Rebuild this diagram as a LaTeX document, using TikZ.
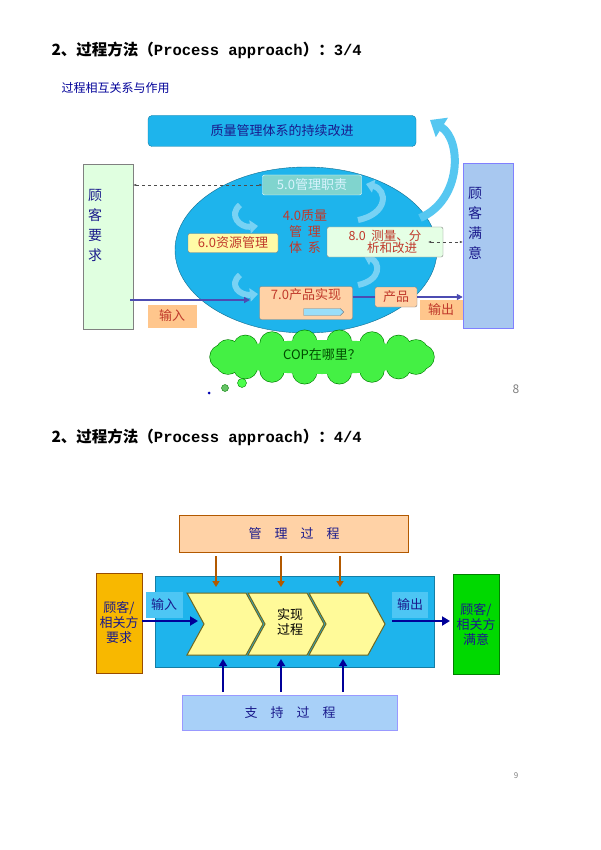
\documentclass[tikz,border=0pt]{standalone}
\usepackage{fontspec}
\setmainfont{Noto Sans CJK SC}
\newfontfamily\lmono{Liberation Mono}
\usetikzlibrary{arrows.meta,shapes.symbols,shapes.geometric}
\definecolor{cy}{HTML}{1EB4EC}
\definecolor{redt}{HTML}{C0392B}
\definecolor{navy}{HTML}{1A1A8C}
\definecolor{lblue}{HTML}{A8C8F0}
\definecolor{sblue}{HTML}{A8D0F8}
\definecolor{gold}{HTML}{F8B800}
\definecolor{cgreen}{HTML}{44F044}
\begin{document}
\begin{tikzpicture}[x=1pt,y=-1pt,
  txt/.style={font=\fontsize{13}{15}\selectfont},
  vtxt/.style={font=\fontsize{14}{20}\selectfont},
  curv/.style={line width=6pt,-{Triangle[length=8pt,width=13pt]},color=cy!60!white},
  fl/.style={-{Triangle[length=8pt,width=9pt]},line width=2.8pt}]
\useasboundingbox[fill=white] (0,0) rectangle (600,850);
% titles
\node[anchor=west,font=\bfseries\fontsize{15.5}{17}\selectfont] (t1) at (48,50) {2、过程方法（{\lmono\bfseries Process approach}）：{\lmono\bfseries 3/4}};
\node[anchor=west,font=\fontsize{12}{13}\selectfont,text=blue!60!black] (st) at (58,88) {过程相互关系与作用};
\node[anchor=west,font=\bfseries\fontsize{15.5}{17}\selectfont] (t2) at (48,437) {2、过程方法（{\lmono\bfseries Process approach}）：{\lmono\bfseries 4/4}};
\node[text=gray,font=\fontsize{12}{13}\selectfont] (p8) at (516,389) {8};
\node[text=gray,font=\fontsize{8}{9}\selectfont] (p9) at (516,776) {9};
% ---------- top diagram
\node[draw=cy!70!black,fill=cy,rounded corners=4pt,minimum width=268pt,minimum height=31pt,txt,text=navy] (ci) at (282,131) {质量管理体系的持续改进};
\node[draw=gray,fill=green!12,minimum width=50pt,minimum height=165pt] (cr) at (108,247) {};
\node[vtxt,text=navy,align=center,anchor=north] (crt) at (95,186) {顾\\客\\要\\求};
\node[draw=blue!50,fill=lblue,minimum width=50pt,minimum height=165pt] (cs) at (488,246) {};
\node[vtxt,text=navy,align=center,anchor=north] (cst) at (475,184) {顾\\客\\满\\意};
\node[ellipse,draw=cy!60!black,fill=cy,minimum width=262pt,minimum height=166pt] (el) at (306,250) {};
% big curved arrow
\draw[line width=8pt,color=cy!75!white,-{Triangle[length=14pt,width=22pt]}] (420,218) .. controls (462,200) and (462,140) .. (430,120);
% small curved arrows
\draw[curv] (240,205) .. controls (228,215) and (240,228) .. (258,226);
\draw[curv] (240,275) .. controls (228,285) and (240,296) .. (258,294);
\draw[curv] (358,220) .. controls (388,214) and (388,190) .. (366,184);
\draw[curv] (358,285) .. controls (382,280) and (380,262) .. (364,256);
\node[draw=white,fill=cyan!60!green!50,rounded corners=2pt,minimum width=99pt,minimum height=20pt,txt,text=cyan!15] (m5) at (312,185) {5.0管理职责};
\node[txt,text=redt,align=center,font=\fontsize{13}{16}\selectfont] (m4) at (305,232) {4.0质量\\管\ \ 理\\体\ \ 系};
\node[draw=gray,fill=yellow!35,rounded corners=2pt,minimum width=90pt,minimum height=19pt,txt,text=redt] (m6) at (233,243) {6.0资源管理};
\node[draw=gray,fill=green!10,rounded corners=2pt,minimum width=116pt,minimum height=27pt,text=redt,align=center,font=\fontsize{12.5}{12}\selectfont] (m8) at (385,242) {8.0\ \ 测量、分\\\ \ \ \ \ 析和改进};
\node[draw=gray,fill=orange!35,rounded corners=2pt,minimum width=93pt,minimum height=33pt] (m7) at (306,303) {};
\node[txt,text=redt] (m7t) at (306,295) {7.0产品实现};
\node[signal,signal to=east,draw=gray,fill=cyan!40,minimum width=40pt,minimum height=7pt,inner sep=0pt] (sg) at (322,312) {};
\node[draw=gray,fill=orange!35,rounded corners=2pt,minimum width=42pt,minimum height=20pt,txt,text=redt] (pr) at (396,297) {产品};
\node[fill=orange!45,minimum width=49pt,minimum height=23pt,txt,text=redt] (in) at (172,316) {输入};
\node[fill=orange!45,minimum width=43pt,minimum height=20pt,txt,text=redt] (out) at (441,310) {输出};
\coordinate (a1) at (130,300);
\coordinate (a2) at (250,300);
\draw[-{Triangle[length=6pt,width=6pt]},line width=2pt,color=blue!40!gray] (a1) -- (a2);
\draw[line width=2pt,color=blue!40!gray] (m7.east|-pr) -- (pr.west);
\draw[-{Triangle[length=6pt,width=6pt]},line width=2pt,color=blue!40!gray] (pr.east) -- (cs.west|-pr);
\draw[dashed,{Latex[length=3pt]}-{Latex[length=3pt]},gray!60!black,thin] (cr.east|-m5) -- (m5.west);
\coordinate (d8) at (428,242);
\draw[dashed,{Latex[length=3pt]}-{Latex[length=3pt]},gray!60!black,thin] (d8) -- (cs.west|-d8);
% cloud
\foreach \a in {0,20,...,340}{
  \draw[green!50!black,line width=1.2pt] ({322+100*cos(\a)},{357+15*sin(\a)}) circle[radius=12pt];}
\foreach \a in {0,20,...,340}{
  \fill[cgreen] ({322+100*cos(\a)},{357+15*sin(\a)}) circle[radius=12pt];}
\fill[cgreen] (322,357) ellipse[x radius=104pt,y radius=17pt];
\node[txt,text=green!30!black] (cop) at (322,355) {COP在哪里？};
\node[circle,draw=green!50!black,fill=green!70,minimum size=9pt,inner sep=0pt] (c1) at (242,383) {};
\node[circle,draw=green!50!black,fill=green!60!black!60,minimum size=7pt,inner sep=0pt] (c2) at (225,388) {};
\node[circle,fill=blue!70!black,minimum size=3pt,inner sep=0pt] (c3) at (209,393) {};
% ---------- bottom diagram
\node[draw=orange!70!black,fill=orange!35,minimum width=229pt,minimum height=37pt,txt,text=navy] (mg) at (294,534) {管\quad 理\quad 过\quad 程};
\node[fill=cy,draw=cy!70!black,minimum width=279pt,minimum height=91pt] (bb) at (295,622) {};
\node[draw=orange!60!black,fill=gold,minimum width=46pt,minimum height=100pt,txt,text=navy,align=center] (lb) at (119,623) {顾客/\\相关方\\要求};
\node[draw=green!50!black,fill=green!85!black,minimum width=45pt,minimum height=100pt,txt,text=navy,align=center] (rb) at (476,624) {顾客/\\相关方\\满意};
\node[fill=cyan!70,minimum width=37pt,minimum height=26pt,txt,text=navy] (ib) at (164,605) {输入};
\node[fill=cyan!70,minimum width=36pt,minimum height=26pt,txt,text=navy] (ob) at (410,605) {输出};
\foreach \x [count=\i] in {187,248,309}{
  \draw[draw=olive!70!black,fill=yellow!40,line width=1pt] (\x,593) -- (\x+59,593) -- (\x+76,624) -- (\x+59,655) -- (\x,655) -- (\x+17,624) -- cycle;
}
\node[txt,text=black,align=center] (rp) at (290,622) {实现\\过程};
\node[draw=blue!40,fill=sblue,minimum width=215pt,minimum height=35pt,txt,text=navy] (sp) at (290,713) {支\quad 持\quad 过\quad 程};
\foreach \x in {216,281,340}{
  \coordinate (mt\x) at (\x,556); \coordinate (mb\x) at (\x,587);
  \draw[-{Triangle[length=6pt,width=7pt]},line width=2.2pt,color=orange!70!black] (mt\x) -- (mb\x);}
\foreach \x in {223,281,343}{
  \coordinate (st\x) at (\x,692); \coordinate (sb\x) at (\x,659);
  \draw[-{Triangle[length=7pt,width=8pt]},line width=2.5pt,color=blue!60!black] (st\x) -- (sb\x);}
\coordinate (ia) at (198,621);
\coordinate (oa) at (450,621);
\draw[fl,color=blue!60!black] (lb.east|-ia) -- (ia);
\draw[fl,color=blue!60!black] (392,621) -- (oa);
\end{tikzpicture}
\end{document}
